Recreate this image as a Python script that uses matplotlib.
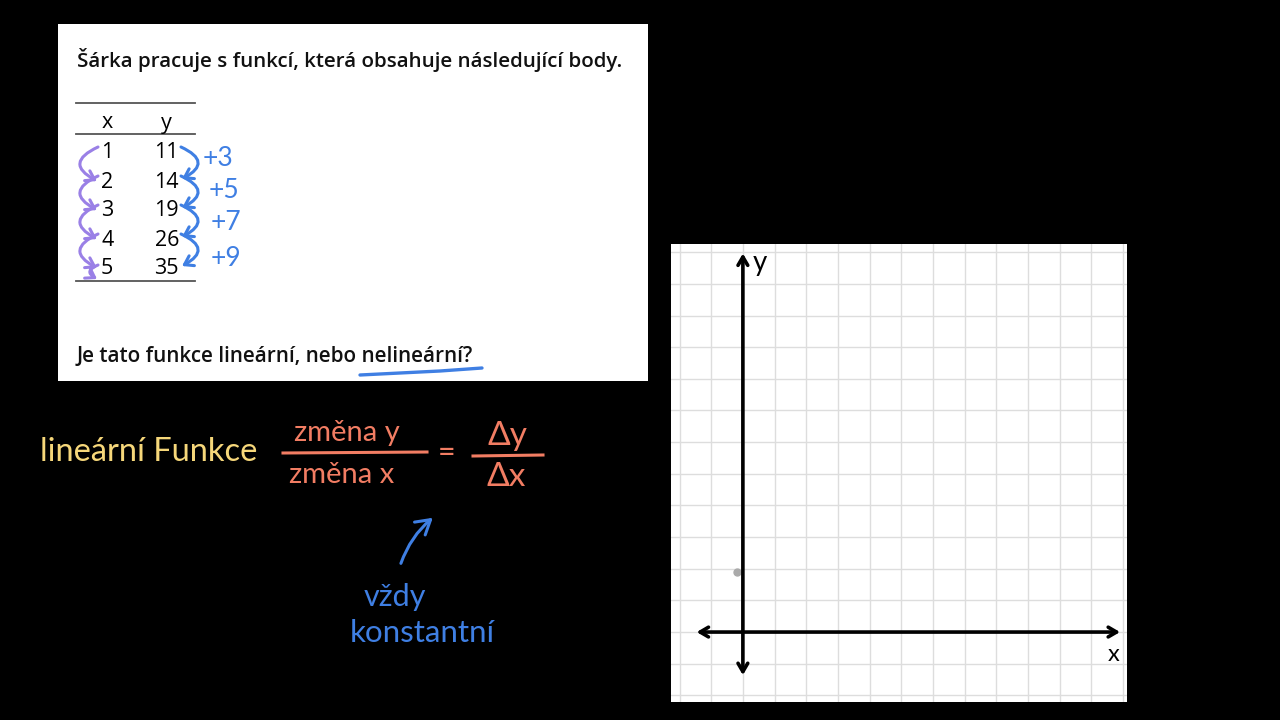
import matplotlib
matplotlib.use("Agg")
import matplotlib.pyplot as plt
from matplotlib.patches import Rectangle, FancyArrowPatch

# table data
x_vals = [1, 2, 3, 4, 5]
y_vals = [11, 14, 19, 26, 35]
diffs = [b - a for a, b in zip(y_vals, y_vals[1:])]  # +3 +5 +7 +9

title = "Šárka pracuje s funkcí, která obsahuje následující body."
question = "Je tato funkce lineární, nebo nelineární?"

# graph grid extent (units)
grid_ticks = list(range(-2, 13))

BLUE = "#3f7fe3"
PURPLE = "#9a80e6"
YELLOW = "#f6d77a"
ORANGE = "#f27d63"
UI_FONT = ["Open Sans", "DejaVu Sans"]
HAND_FONT = ["Lato", "DejaVu Sans"]

fig = plt.figure(figsize=(12.8, 7.2), dpi=100, facecolor="black")
ax = fig.add_axes([0, 0, 1, 1])
ax.set_xlim(0, 1280)
ax.set_ylim(720, 0)
ax.axis("off")
ax.set_facecolor("black")

# white problem card
ax.add_patch(Rectangle((58, 24), 590, 357, facecolor="white", edgecolor="none"))
ax.text(77, 60, title, fontsize=14.75, family=UI_FONT, weight=600, va="center", ha="left",
        color="#111111")

# table
row_y = [153, 182, 211, 240, 269]
for ly in (103, 134, 281):
    ax.plot([76, 195], [ly, ly], color="#555555", lw=1.3)
ax.text(107, 123, "x", fontsize=15.5, family=UI_FONT, weight=500, ha="center", va="center")
ax.text(166, 123, "y", fontsize=15.5, family=UI_FONT, weight=500, ha="center", va="center")
for xv, yv, ry in zip(x_vals, y_vals, row_y):
    ax.text(101, ry, str(xv), fontsize=15.5, family=UI_FONT, weight=500, ha="left", va="center")
    ax.text(179, ry, str(yv), fontsize=15.5, family=UI_FONT, weight=500, ha="right", va="center")

# blue arrows with differences
label_x = [203, 209, 211, 211]
label_y = [158, 191, 223, 258]
for i, d in enumerate(diffs):
    y0, y1 = row_y[i] - 6, row_y[i + 1] - 3
    ax.add_patch(FancyArrowPatch((181, y0), (182, y1), connectionstyle="arc3,rad=-1.0",
                                 arrowstyle="->,head_length=6,head_width=4", color=BLUE, lw=2.2,
                                 shrinkA=0, shrinkB=0))
    ax.text(label_x[i], label_y[i], f"+{d}", fontsize=19, color=BLUE,
            family=HAND_FONT, ha="left", va="center")

# purple arrows on x column
for i in range(len(x_vals)):
    if i + 1 < len(row_y):
        y0, y1 = row_y[i] - 6, row_y[i + 1] - 1
    else:
        y0, y1 = row_y[i] - 4, row_y[i] + 10
    ax.add_patch(FancyArrowPatch((98, y0), (97, y1), connectionstyle="arc3,rad=1.0",
                                 arrowstyle="->,head_length=6,head_width=4", color=PURPLE, lw=2.2,
                                 shrinkA=0, shrinkB=0))

ax.text(77, 356, question, fontsize=14.85, family=UI_FONT, weight=600, va="center", ha="left",
        color="#111111")
ax.plot([360, 400, 440, 482], [375, 373, 371, 368], color=BLUE, lw=2.4, solid_capstyle="round")

# handwritten notes
ax.text(40, 452, "lineární Funkce", fontsize=23.5, color=YELLOW, family=HAND_FONT, ha="left", va="center")
ax.text(347, 433, "změna y", fontsize=21, color=ORANGE, family=HAND_FONT, ha="center", va="center")
ax.plot([283, 427], [453, 452], color=ORANGE, lw=2.2)
ax.text(342, 475, "změna x", fontsize=21, color=ORANGE, family=HAND_FONT, ha="center", va="center")
ax.text(447, 453, "=", fontsize=22, color=ORANGE, family=HAND_FONT, ha="center", va="center")
ax.text(508, 436, "Δy", fontsize=24, color=ORANGE, family=HAND_FONT, ha="center", va="center")
ax.plot([473, 543], [456, 455], color=ORANGE, lw=2.2)
ax.text(506, 477, "Δx", fontsize=24, color=ORANGE, family=HAND_FONT, ha="center", va="center")

ax.add_patch(FancyArrowPatch((400, 566), (435, 516), connectionstyle="arc3,rad=-0.15",
                             arrowstyle="->,head_length=10,head_width=6", color=BLUE, lw=2.2))
ax.text(395, 597, "vždy", fontsize=22, color=BLUE, family=HAND_FONT, ha="center", va="center")
ax.text(422, 633, "konstantní", fontsize=22.5, color=BLUE, family=HAND_FONT, ha="center", va="center")

# graph panel
g = fig.add_axes([671 / 1280, (720 - 702) / 720, 456 / 1280, 458 / 720])
g.set_facecolor("white")
g.set_xlim(-2.27, 12.13)
g.set_ylim(-2.21, 12.26)
g.set_xticks(grid_ticks)
g.set_yticks(grid_ticks)
g.grid(True, color="#dddddd", lw=1)
g.tick_params(length=0, labelbottom=False, labelleft=False)
for s in g.spines.values():
    s.set_visible(False)
g.annotate("", xy=(12.0, 0), xytext=(-1.55, 0),
           arrowprops=dict(arrowstyle="<->,head_length=0.6,head_width=0.35", color="black", lw=2.6))
g.annotate("", xy=(0, 12.05), xytext=(0, -1.45),
           arrowprops=dict(arrowstyle="<->,head_length=0.6,head_width=0.35", color="black", lw=2.6))
g.text(0.55, 11.65, "y", fontsize=20, family=HAND_FONT, ha="center", va="center")
g.text(11.7, -0.7, "x", fontsize=17, family=HAND_FONT, ha="center", va="center")
g.plot([-0.2], [1.9], marker="o", color="#aaaaaa", ms=5)

fig.savefig("out.png", dpi=100, facecolor="black")
